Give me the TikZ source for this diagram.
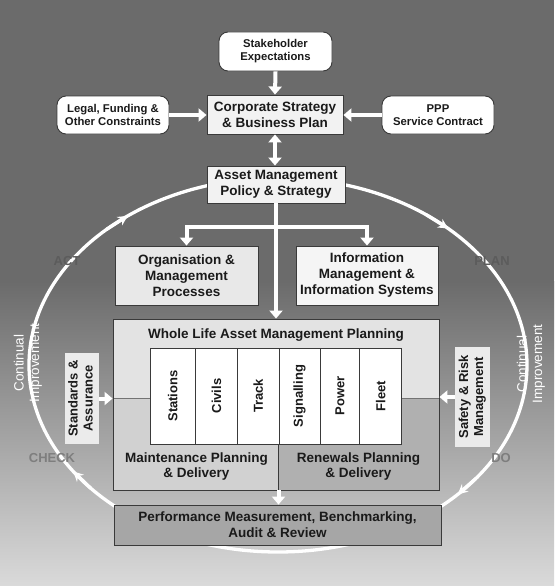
\documentclass[tikz,border=0pt]{standalone}
\usepackage{fontspec}
\setmainfont{Liberation Sans}
\usetikzlibrary{arrows.meta,calc}
\definecolor{bgtop}{HTML}{6B6B6B}
\definecolor{bgbot}{HTML}{DADADA}
\definecolor{edge}{HTML}{3A3A3A}
\definecolor{ink}{HTML}{1A1A1A}
\definecolor{pdcadark}{HTML}{5C5C5C}
\definecolor{pdcalight}{HTML}{7E7E7E}
\tikzset{
  basebox/.style={draw=edge, line width=0.9pt, text=ink, align=center, inner sep=0pt},
  roundbox/.style={basebox, rounded corners=9pt, fill=white, font=\bfseries\fontsize{11.3}{13}\selectfont},
  mainbox/.style={basebox, font=\bfseries\fontsize{13.5}{16}\selectfont},
  colbox/.style={basebox, fill=white, font=\bfseries\fontsize{13}{15}\selectfont, minimum height=96pt},
  sidebox/.style={basebox, draw=none, fill=black!8, font=\bfseries\fontsize{13}{16}\selectfont},
  plain/.style={text=ink, align=center, inner sep=0pt, font=\bfseries\fontsize{13.5}{15.5}\selectfont},
  warrow/.style={draw=white, line width=4pt, -{Triangle[length=8pt,width=13pt]}},
  wdouble/.style={draw=white, line width=4pt, {Triangle[length=8pt,width=13pt]}-{Triangle[length=8pt,width=13pt]}},
  loopline/.style={draw=white, line width=3.3pt},
  looparrow/.style={draw=white, line width=3.3pt, -{Stealth[length=10pt,width=10pt,inset=3.5pt]}},
  improve/.style={text=white, align=center, inner sep=0pt, rotate=90, font=\fontsize{13.5}{15.5}\selectfont},
  pdca/.style={inner sep=0pt, font=\bfseries\fontsize{13}{15}\selectfont}
}
\begin{document}
\begin{tikzpicture}[x=1pt,y=-1pt]
\useasboundingbox (0,0) rectangle (554,586);
% background
\fill[bgtop] (0,0) rectangle (554,282);
\shade[top color=bgtop, bottom color=bgbot] (0,281) rectangle (554,586);

% continual improvement loop
\coordinate (E) at (278,365);
\draw[loopline] (E) ellipse [x radius=249pt, y radius=187pt];
\foreach \a in {42.3,143.8,231.4,311.6}{
  \draw[looparrow] ($(E)+(\a-5:249 and 187)$) -- ($(E)+(\a+1.5:249 and 187)$);
}
\node[improve] (ciL) at (28,363) {Continual\\Improvement};
\node[improve] (ciR) at (531,364) {Continual\\Improvement};
\node[pdca, text=pdcadark] (act) at (67,261) {ACT};
\node[pdca, text=pdcadark] (plan) at (492,261) {PLAN};
\node[pdca, text=pdcalight] (check) at (52,458) {CHECK};
\node[pdca, text=pdcalight] (do) at (501,458) {DO};

% top boxes
\node[roundbox, minimum width=113pt, minimum height=39pt] (stake) at (275.5,51.5) {Stakeholder\\Expectations};
\node[mainbox, fill=black!5, minimum width=136pt, minimum height=39pt] (corp) at (275,114.5) {Corporate Strategy\\\& Business Plan};
\node[roundbox, minimum width=112pt, minimum height=38pt] (legal) at (113,115) {Legal, Funding \&\\Other Constraints};
\node[roundbox, minimum width=112pt, minimum height=38pt] (ppp) at (438,115) {PPP\\Service Contract};
\node[mainbox, fill=black!5, minimum width=138pt, minimum height=37pt] (amp) at (276,184.5) {Asset Management\\Policy \& Strategy};
\node[mainbox, fill=black!9, minimum width=143pt, minimum height=59pt] (org) at (186.5,275.5) {Organisation \&\\Management\\Processes};
\node[mainbox, fill=black!4, minimum width=142pt, minimum height=59pt] (info) at (367,275.5) {Information\\Management \&\\Information Systems};

% whole life planning block
\fill[black!11] (113,319) rectangle (439,398);
\fill[black!18] (113,398) rectangle (278.5,490);
\fill[black!31] (278.5,398) rectangle (439,490);
\draw[edge, line width=0.9pt] (278.5,398) -- (278.5,490);
\draw[black!55, line width=0.6pt] (113,398) -- (439,398);
\node[basebox, minimum width=326pt, minimum height=171pt] (wl) at (276,404.5) {};
\node[plain] (wltitle) at (276,335) {Whole Life Asset Management Planning};
\node[colbox, minimum width=45.7pt] (stations) at (172.85,396) {\rotatebox{90}{Stations}};
\node[colbox, minimum width=41.6pt] (civils) at (216.5,396) {\rotatebox{90}{Civils}};
\node[colbox, minimum width=41.7pt] (track) at (258.15,396) {\rotatebox{90}{Track}};
\node[colbox, minimum width=41pt] (signal) at (299.5,396) {\rotatebox{90}{Signalling}};
\node[colbox, minimum width=39.7pt] (power) at (339.85,396) {\rotatebox{90}{Power}};
\node[colbox, minimum width=42pt] (fleet) at (380.7,396) {\rotatebox{90}{Fleet}};
\node[plain] (maint) at (196.5,466.5) {Maintenance Planning\\\& Delivery};
\node[plain] (renew) at (358.5,466.5) {Renewals Planning\\\& Delivery};
\coordinate (split) at (278.5,490);

% side boxes
\node[sidebox, minimum width=34pt, minimum height=91pt] (std) at (82,398.5) {\rotatebox{90}{\begin{tabular}{@{}c@{}}Standards \&\\[-1pt]Assurance\end{tabular}}};
\node[sidebox, minimum width=35pt, minimum height=100pt] (safety) at (472.5,397) {\rotatebox{90}{\begin{tabular}{@{}c@{}}Safety \& Risk\\[-1pt]Management\end{tabular}}};

% performance box
\node[mainbox, fill=black!35, minimum width=327pt, minimum height=40pt] (perf) at (277.5,525) {Performance Measurement, Benchmarking,\\Audit \& Review};

% connectors
\draw[warrow] (stake.south) -- (corp.north);
\draw[warrow] (legal.east) -- (legal.east -| corp.west);
\draw[warrow] (ppp.west) -- (ppp.west -| corp.east);
\draw[wdouble] (corp.south) -- (corp.south |- amp.north);
\coordinate (brc) at (amp.south |- 0,227);
\draw[warrow] (amp.south) -- (amp.south |- wl.north);
\draw[wdouble, line join=miter] (org.north) -- (org.north |- brc) -- (info.north |- brc) -- (info.north);
\draw[warrow] (std.east) -- (std.east -| wl.west);
\draw[warrow] (safety.west) -- (safety.west -| wl.east);
\draw[warrow] (split) -- (split |- perf.north);
\end{tikzpicture}
\end{document}
